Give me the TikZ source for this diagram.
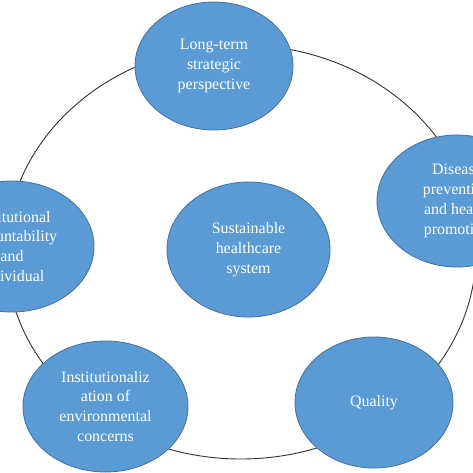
\documentclass[tikz,border=0pt]{standalone}
\usepackage{fontspec}
\setmainfont{Liberation Serif}
\usetikzlibrary{shapes.geometric}

\definecolor{blobfill}{RGB}{91,155,213}
\definecolor{blobline}{RGB}{65,113,156}

\begin{document}
\begin{tikzpicture}[x=1bp,y=-1bp,
  blob/.style={ellipse,draw=blobline,fill=blobfill,line width=0.8bp,inner sep=0pt,
    text=white,align=center,font=\fontsize{16}{20}\selectfont}]
\useasboundingbox (0,0) rectangle (473,473);
\fill [white] (0,0) rectangle (473,473);
% outer ring
\draw [black!80, line width=0.9bp] (241,252) ellipse [x radius=235, y radius=207];
% the six ellipses
\node [blob, minimum width=158bp, minimum height=128bp] (ltsp) at (214,66) {Long-term\\strategic\\perspective};
\node [blob, minimum width=163bp, minimum height=135bp] (shs) at (248.5,249.5) {Sustainable\\healthcare\\system};
\node [blob, minimum width=164bp, minimum height=131bp] (iaai) at (12,246.5) {Institutional\\accountability\\and\\individual};
\node [blob, minimum width=160bp, minimum height=132bp] (dphp) at (457,201) {Disease\\prevention\\and health\\promotion};
\node [blob, minimum width=165bp, minimum height=131bp] (iec) at (105.5,406.5) {Institutionaliz\\ation of\\environmental\\concerns};
\node [blob, minimum width=158bp, minimum height=131bp] (qual) at (374,402.5) {Quality};
\end{tikzpicture}
\end{document}
